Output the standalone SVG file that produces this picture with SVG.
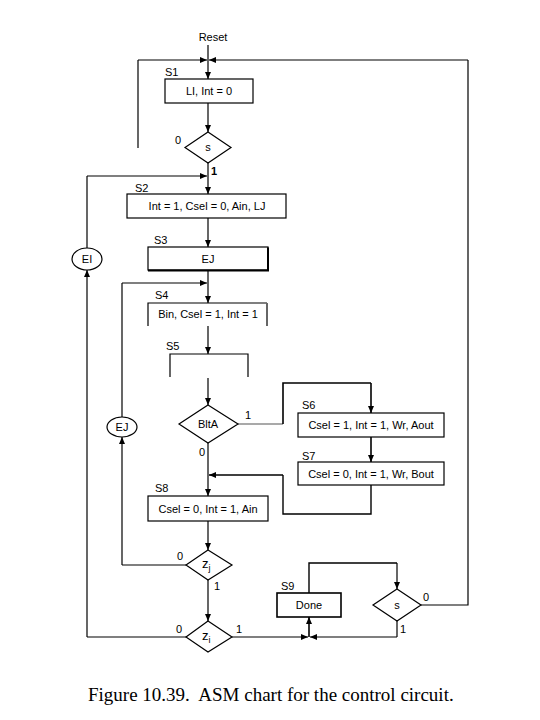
<svg xmlns="http://www.w3.org/2000/svg" width="540" height="720" viewBox="0 0 540 720">
<defs>
<marker id="ah" markerUnits="userSpaceOnUse" markerWidth="8" markerHeight="6" refX="7" refY="3" orient="auto">
<path d="M0,0 L7,3 L0,6 z" fill="#000"/>
</marker>
<style>
.t{font-family:"Liberation Sans",Arial,sans-serif;font-size:11px;fill:#000}
.c{text-anchor:middle}
.b{font-weight:bold}
.z{font-size:13px}
.box{fill:#fff;stroke:#000;stroke-width:1.2}
.ln{fill:none;stroke:#000;stroke-width:1.2}
.ar{fill:none;stroke:#000;stroke-width:1.2;marker-end:url(#ah)}
.cap{font-family:"Liberation Serif","Times New Roman",serif;font-size:19px;fill:#000;white-space:pre}
</style>
</defs>
<rect width="540" height="720" fill="#fff"/>

<g id="connectors">
<path class="ar" d="M208,45 V79"/>
<path class="ln" d="M138,148 V60"/>
<path class="ar" d="M138,60 H207"/>
<path class="ln" d="M421,605 H468 V60"/>
<path class="ar" d="M468,60 H209"/>
<path class="ar" d="M208,103 V132"/>
<path class="ar" d="M208,163 V194"/>
<path class="ln" d="M186,637 H87"/>
<path class="ar" d="M87,637 V270"/>
<path class="ln" d="M87,248 V176"/>
<path class="ar" d="M87,176 H207"/>
<path class="ar" d="M208,218 V247"/>
<path class="ar" d="M208,270 V303"/>
<path class="ln" d="M186,565 H122"/>
<path class="ar" d="M122,565 V437"/>
<path class="ln" d="M122,417 V283"/>
<path class="ar" d="M122,283 H207"/>
<path class="ar" d="M208,326 V354"/>
<path class="ar" d="M208,378 V405"/>
<path class="ln" d="M238,424 H283" style="stroke:#555"/>
<path class="ln" d="M283,424 V383 H371" style="stroke-width:1.6"/>
<path class="ar" d="M371,383 V413" style="stroke-width:1.6"/>
<path class="ar" d="M371,437 V462" style="stroke-width:1.6"/>
<path class="ln" d="M371,485 V514 H283 V475" style="stroke-width:1.4"/>
<path class="ar" d="M283,475 H209" style="stroke-width:1.4"/>
<path class="ar" d="M208,443 V496"/>
<path class="ar" d="M208,521 V550"/>
<path class="ar" d="M208,580 V621"/>
<path class="ar" d="M232,637 H308"/>
<path class="ln" d="M397,621 V637"/>
<path class="ar" d="M397,637 H310"/>
<path class="ar" d="M309,637 V617" style="stroke-width:1.6"/>
<path class="ln" d="M309,593 V563 H397" style="stroke-width:1.4"/>
<path class="ar" d="M397,563 V589"/>
</g>

<g id="reset"><text class="t c" x="213" y="41">Reset</text></g>

<g id="S1">
<text class="t" x="165" y="76">S1</text>
<rect class="box" x="165" y="79" width="88" height="24"/>
<text class="t c" x="209" y="95">LI, Int = 0</text>
</g>
<g id="D1">
<polygon class="box" points="208,132 231,147.5 208,163 185,147.5"/>
<text class="t c" x="208" y="151">s</text>
<text class="t" x="175" y="144">0</text>
<text class="t b" x="211" y="175">1</text>
</g>

<g id="S2">
<text class="t" x="135" y="192">S2</text>
<rect class="box" x="127" y="194" width="159" height="24"/>
<text class="t c" x="207" y="210">Int = 1, Csel = 0, Ain, LJ</text>
</g>

<g id="EI">
<ellipse class="box" cx="87" cy="259" rx="15" ry="11"/>
<text class="t c" x="87" y="263">EI</text>
</g>

<g id="S3">
<text class="t" x="154" y="244">S3</text>
<rect class="box" x="148" y="247" width="120" height="23"/>
<path class="ln" d="M268,247.5 V270.5 H148" style="stroke-width:2"/>
<text class="t c" x="208" y="263">EJ</text>
</g>

<g id="S4">
<text class="t" x="155" y="299">S4</text>
<path class="ln" d="M148,326 V303 H267"/>
<path class="ln" d="M267,303 V326" style="stroke:#666;stroke-width:2"/>
<text class="t c" x="208" y="318">Bin, Csel = 1, Int = 1</text>
</g>

<g id="S5">
<text class="t" x="166" y="350">S5</text>
<path class="ln" d="M170,377 V354 H248 V377"/>
</g>

<g id="EJc">
<ellipse class="box" cx="122" cy="427" rx="15" ry="10"/>
<text class="t c" x="122" y="431">EJ</text>
</g>

<g id="D2">
<polygon class="box" points="208,405 238,424 208,443 179,424"/>
<text class="t c" x="208" y="428">BltA</text>
<text class="t" x="245" y="419">1</text>
<text class="t" x="199" y="456">0</text>
</g>

<g id="S6">
<text class="t" x="302" y="409">S6</text>
<rect class="box" x="298" y="413" width="146" height="24"/>
<text class="t c" x="371" y="429">Csel = 1, Int = 1, Wr, Aout</text>
</g>

<g id="S7">
<text class="t" x="302" y="460">S7</text>
<rect class="box" x="298" y="462" width="146" height="23"/>
<text class="t c" x="371" y="478">Csel = 0, Int = 1, Wr, Bout</text>
</g>

<g id="S8">
<text class="t" x="155" y="492">S8</text>
<rect class="box" x="148" y="496" width="120" height="25"/>
<text class="t c" x="208" y="513">Csel = 0, Int = 1, Ain</text>
</g>

<g id="D3">
<polygon class="box" points="208,550 232,565 208,580 186,565"/>
<text class="t z" x="202" y="568">z<tspan font-size="9" dy="3">j</tspan></text>
<text class="t" x="177" y="560">0</text>
<text class="t" x="214" y="590">1</text>
</g>

<g id="D4">
<polygon class="box" points="208,621 232,637 208,652 186,637"/>
<text class="t z" x="202" y="640">z<tspan font-size="9" dy="3">i</tspan></text>
<text class="t" x="176" y="633">0</text>
<text class="t" x="236" y="633">1</text>
</g>

<g id="S9">
<text class="t" x="281" y="590">S9</text>
<rect class="box" x="277" y="593" width="64" height="24" style="stroke-width:1.6"/>
<text class="t c" x="309" y="609">Done</text>
</g>

<g id="D5">
<polygon class="box" points="397,589 421,605 397,621 373,605"/>
<text class="t c" x="397" y="609">s</text>
<text class="t" x="423" y="601">0</text>
<text class="t" x="400" y="633">1</text>
</g>

<g id="caption"><text class="cap" x="88" y="701">Figure 10.39.  ASM chart for the control circuit.</text></g>
</svg>
